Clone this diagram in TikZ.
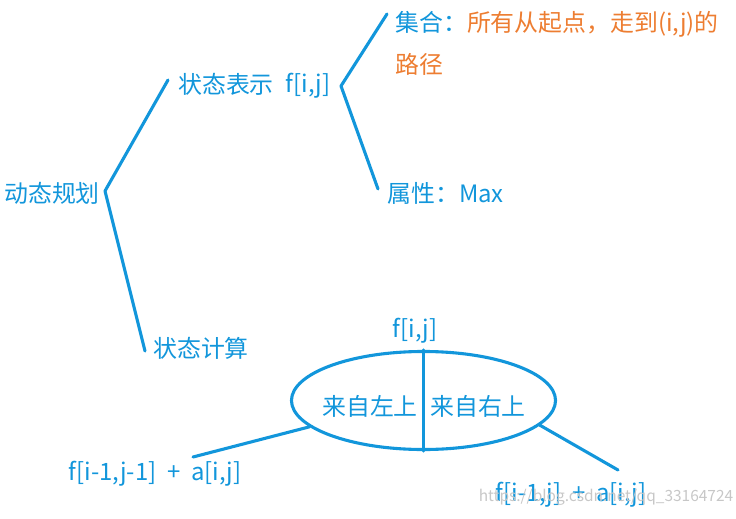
\documentclass[tikz,border=0pt]{standalone}
\usepackage{fontspec}
\setmainfont{Noto Sans CJK SC}
\usetikzlibrary{shapes.geometric}
\definecolor{penblue}{RGB}{18,150,219}
\definecolor{penorange}{RGB}{237,125,49}
\tikzset{
  pen/.style={draw=penblue, line width=2.2pt, line cap=round, line join=round},
  txt/.style={text=penblue, inner sep=0pt, font=\fontsize{17}{20}\selectfont},
}
\begin{document}
\begin{tikzpicture}[x=0.025cm, y=-0.025cm]
    \useasboundingbox (0,0) rectangle (736,519);

    % first level
    \node[txt] (dp) at (52,193) {动态规划};
    \node[txt] (rep) at (226,84) {状态表示};
    \node[txt] (frep) at (308,86) {f[i,j]};
    \node[txt] (calc) at (201,348) {状态计算};
    \coordinate (dpTip) at (105,191);
    \coordinate (repTip) at (168,80);
    \coordinate (calcTip) at (145,351);
    \draw[pen] (repTip) -- (dpTip) -- (calcTip);

    % state representation
    \node[txt, anchor=west] (set) at (395,24) {集合：\textcolor{penorange}{所有从起点，走到(i,j)的}};
    \node[txt, anchor=west, text=penorange] (path) at (395,64) {路径};
    \node[txt, anchor=west] (attr) at (387,193) {属性：Max};
    \coordinate (repV) at (341,86);
    \coordinate (setTip) at (387,14);
    \coordinate (attrTip) at (378,189);
    \draw[pen] (setTip) -- (repV) -- (attrTip);

    % state computation
    \node[txt] (fij) at (415,331) {f[i,j]};
    \node[ellipse, pen, minimum width=6.6cm, minimum height=2.45cm, inner sep=0pt] (ell) at (423.5,400.5) {};
    \draw[pen] (ell.north) -- (ell.south);
    \node[txt] (left) at (370,406) {来自左上};
    \node[txt] (right) at (478,406) {来自右上};

    \node[txt] (fl) at (155,474) {f[i-1,j-1]\ \ +\ \ a[i,j]};
    \node[txt] (fr) at (571,495) {f[i-1,j]\ \ +\ \ a[i,j]};
    \coordinate (flTip) at (193,457);
    \coordinate (frTip) at (618,470);
    \draw[pen] (ell.193.6) -- (flTip);
    \draw[pen] (ell.348) -- (frTip);

    \node[text=black!22, inner sep=0pt, font=\fontsize{11}{13}\selectfont] (mark) at (606,497) {https://blog.csdn.net/qq\_33164724};
\end{tikzpicture}
\end{document}
